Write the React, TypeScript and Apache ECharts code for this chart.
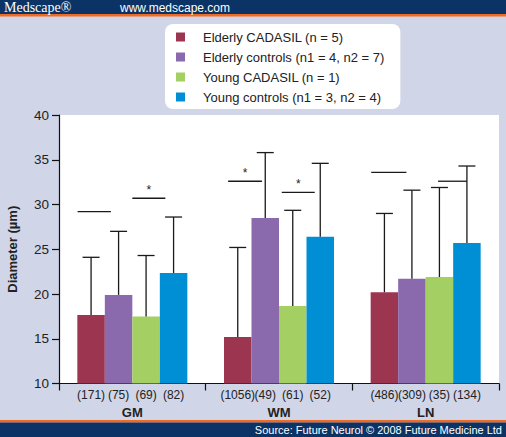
import React, { useEffect, useRef } from "react";
import * as echarts from "echarts";

const categories = ["GM", "WM", "LN"];
const seriesNames = [
  "Elderly CADASIL (n = 5)",
  "Elderly controls (n1 = 4, n2 = 7)",
  "Young CADASIL (n = 1)",
  "Young controls (n1 = 3, n2 = 4)",
];
const elderlyCadasil = [17.65, 15.2, 20.2];
const elderlyControls = [19.9, 28.5, 21.7];
const youngCadasil = [17.5, 18.65, 21.9];
const youngControls = [22.35, 26.4, 25.7];

const elderlyCadasilTop = [24.1, 25.2, 29.0];
const elderlyControlsTop = [27.0, 35.8, 31.6];
const youngCadasilTop = [24.3, 29.35, 31.9];
const youngControlsTop = [28.6, 34.6, 34.3];

const elderlyCadasilN = [171, 1056, 486];
const elderlyControlsN = [75, 49, 309];
const youngCadasilN = [69, 61, 35];
const youngControlsN = [82, 52, 134];

const yTicks = [10, 15, 20, 25, 30, 35, 40];

// significance brackets: category, from/to in bar units (0 = centre of first bar), level, star
const sigCat = [0, 0, 1, 1, 2, 2];
const sigFrom = [-0.49, 1.5, -0.35, 1.6, -0.48, 1.95];
const sigTo = [0.72, 2.7, 0.88, 2.8, 0.8, 3.0];
const sigLevel = [29.2, 30.7, 32.6, 31.35, 33.6, 32.6];
const sigStar = [0, 1, 1, 1, 0, 0];

const colors = ["#9c3650", "#8a69ad", "#a4cf62", "#008fd5"];
const FONT = "'Liberation Sans', Arial, sans-serif";
const CAT_GAP = 0.25;

export default function App() {
  const ref = useRef<HTMLDivElement>(null);
  useEffect(() => {
    if (!ref.current) return;
    const chart = echarts.init(ref.current, null, { renderer: "svg" });
    const means = [elderlyCadasil, elderlyControls, youngCadasil, youngControls];
    const tops = [elderlyCadasilTop, elderlyControlsTop, youngCadasilTop, youngControlsTop];
    const counts = [elderlyCadasilN, elderlyControlsN, youngCadasilN, youngControlsN];

    const errData: number[][] = [];
    means.forEach((m, s) =>
      m.forEach((v, c) => errData.push([c, s, v, tops[s][c]]))
    );
    const sigData = sigCat.map((c, i) => [c, sigFrom[i], sigTo[i], sigLevel[i], sigStar[i]]);

    const barX = (api: any, cat: number, pos: number) => {
      const center = api.coord([cat, 10])[0];
      const bw = api.size([1, 0])[0];
      const barW = (bw * (1 - CAT_GAP)) / 4;
      return center - (bw * (1 - CAT_GAP)) / 2 + (pos + 0.5) * barW;
    };

    const option: any = {
      animation: false,
      backgroundColor: "#d0d5e8",
      textStyle: { fontFamily: FONT },
      legend: {
        orient: "vertical",
        left: 165,
        top: 24,
        padding: [6, 16, 5, 11],
        backgroundColor: "#ffffff",
        borderRadius: 8,
        itemWidth: 9,
        itemHeight: 9,
        itemGap: 6,
        icon: "rect",
        selectedMode: false,
        data: seriesNames,
        textStyle: {
          fontFamily: FONT,
          fontSize: 13,
          lineHeight: 14,
          color: "#222",
          padding: [0, 0, 0, 13],
        },
      },
      grid: {
        left: 59,
        right: 7,
        top: 115,
        bottom: 53.5,
        containLabel: false,
        outerBoundsMode: "none",
        show: true,
        backgroundColor: "#ffffff",
        borderWidth: 0,
      },
      xAxis: {
        type: "category",
        data: categories,
        axisLine: { lineStyle: { color: "#111", width: 1.2 } },
        axisTick: { show: true, length: 7, interval: 0, lineStyle: { color: "#111", width: 1.2 } },
        axisLabel: {
          margin: 22,
          fontSize: 13,
          fontWeight: "bold",
          color: "#222",
          fontFamily: FONT,
        },
      },
      yAxis: {
        type: "value",
        min: 10,
        max: 40,
        interval: 5,
        name: "Diameter (µm)",
        nameLocation: "middle",
        nameRotate: 90,
        nameGap: 40,
        nameTextStyle: { fontSize: 13, fontWeight: "bold", color: "#222", fontFamily: FONT },
        axisLine: { show: true, lineStyle: { color: "#111", width: 1.2 } },
        axisTick: { show: true, length: 7, lineStyle: { color: "#111", width: 1.2 } },
        splitLine: { show: false },
        axisLabel: {
          margin: 10,
          fontSize: 13.5,
          color: "#222",
          fontFamily: FONT,
          formatter: (v: number) => (yTicks.includes(v) ? String(v) : ""),
        },
      },
      series: [
        ...means.map((m, s) => ({
          type: "bar",
          name: seriesNames[s],
          data: m,
          barGap: "0%",
          barCategoryGap: CAT_GAP * 100 + "%",
          itemStyle: { color: colors[s] },
          label: {
            show: true,
            position: "bottom",
            distance: 5,
            fontSize: 12,
            color: "#222",
            fontFamily: FONT,
            formatter: (p: any) => "(" + counts[s][p.dataIndex] + ")",
          },
        })),
        {
          type: "custom",
          name: "errors",
          data: errData,
          encode: { x: 0, y: 3 },
          clip: false,
          z: 5,
          renderItem: (params: any, api: any) => {
            const cat = api.value(0);
            const s = api.value(1);
            const x = barX(api, cat, s);
            const y1 = api.coord([cat, api.value(2)])[1];
            const y2 = api.coord([cat, api.value(3)])[1];
            const st = { stroke: "#1a1a1a", lineWidth: 1.3 };
            return {
              type: "group",
              children: [
                { type: "line", shape: { x1: x, y1, x2: x, y2 }, style: st },
                { type: "line", shape: { x1: x - 8.5, y1: y2, x2: x + 8.5, y2 }, style: st },
              ],
            };
          },
        },
        {
          type: "custom",
          name: "sig",
          data: sigData,
          encode: { x: 0, y: 3 },
          clip: false,
          z: 5,
          renderItem: (params: any, api: any) => {
            const cat = api.value(0);
            const xa = barX(api, cat, api.value(1));
            const xb = barX(api, cat, api.value(2));
            const y = api.coord([cat, api.value(3)])[1];
            const children: any[] = [
              { type: "line", shape: { x1: xa, y1: y, x2: xb, y2: y }, style: { stroke: "#1a1a1a", lineWidth: 1.3 } },
            ];
            if (api.value(4)) {
              children.push({
                type: "text",
                style: {
                  x: (xa + xb) / 2,
                  y: y - 2,
                  text: "*",
                  fill: "#222",
                  fontSize: 12,
                  fontFamily: FONT,
                  align: "center",
                  verticalAlign: "bottom",
                },
              });
            }
            return { type: "group", children };
          },
        },
      ],
      graphic: [
        { type: "rect", shape: { x: 0, y: 0, width: 506, height: 14 }, style: { fill: "#0b3365" } },
        { type: "rect", shape: { x: 0, y: 14, width: 506, height: 2.5 }, style: { fill: "#ef6a23" } },
        {
          type: "text",
          x: 4,
          y: 7.5,
          style: {
            text: "Medscape®",
            fill: "#ffffff",
            font: "14px 'Liberation Serif', serif",
            verticalAlign: "middle",
          },
        },
        {
          type: "text",
          x: 120,
          y: 7.5,
          style: {
            text: "www.medscape.com",
            fill: "#ffffff",
            font: "12px 'Liberation Sans', Arial, sans-serif",
            verticalAlign: "middle",
          },
        },
        { type: "rect", shape: { x: 0, y: 420, width: 506, height: 2.5 }, style: { fill: "#ef6a23" } },
        { type: "rect", shape: { x: 0, y: 422.5, width: 506, height: 15 }, style: { fill: "#0b3365" } },
        {
          type: "text",
          x: 502,
          y: 430,
          style: {
            text: "Source: Future Neurol © 2008 Future Medicine Ltd",
            fill: "#ffffff",
            font: "11px 'Liberation Sans', Arial, sans-serif",
            align: "right",
            verticalAlign: "middle",
          },
        },
      ],
    };
    chart.setOption(option);
    return () => chart.dispose();
  }, []);
  return (
    <div
      ref={ref}
      style={{ position: "fixed", left: 0, top: 0, width: 506, height: 437 }}
    />
  );
}
